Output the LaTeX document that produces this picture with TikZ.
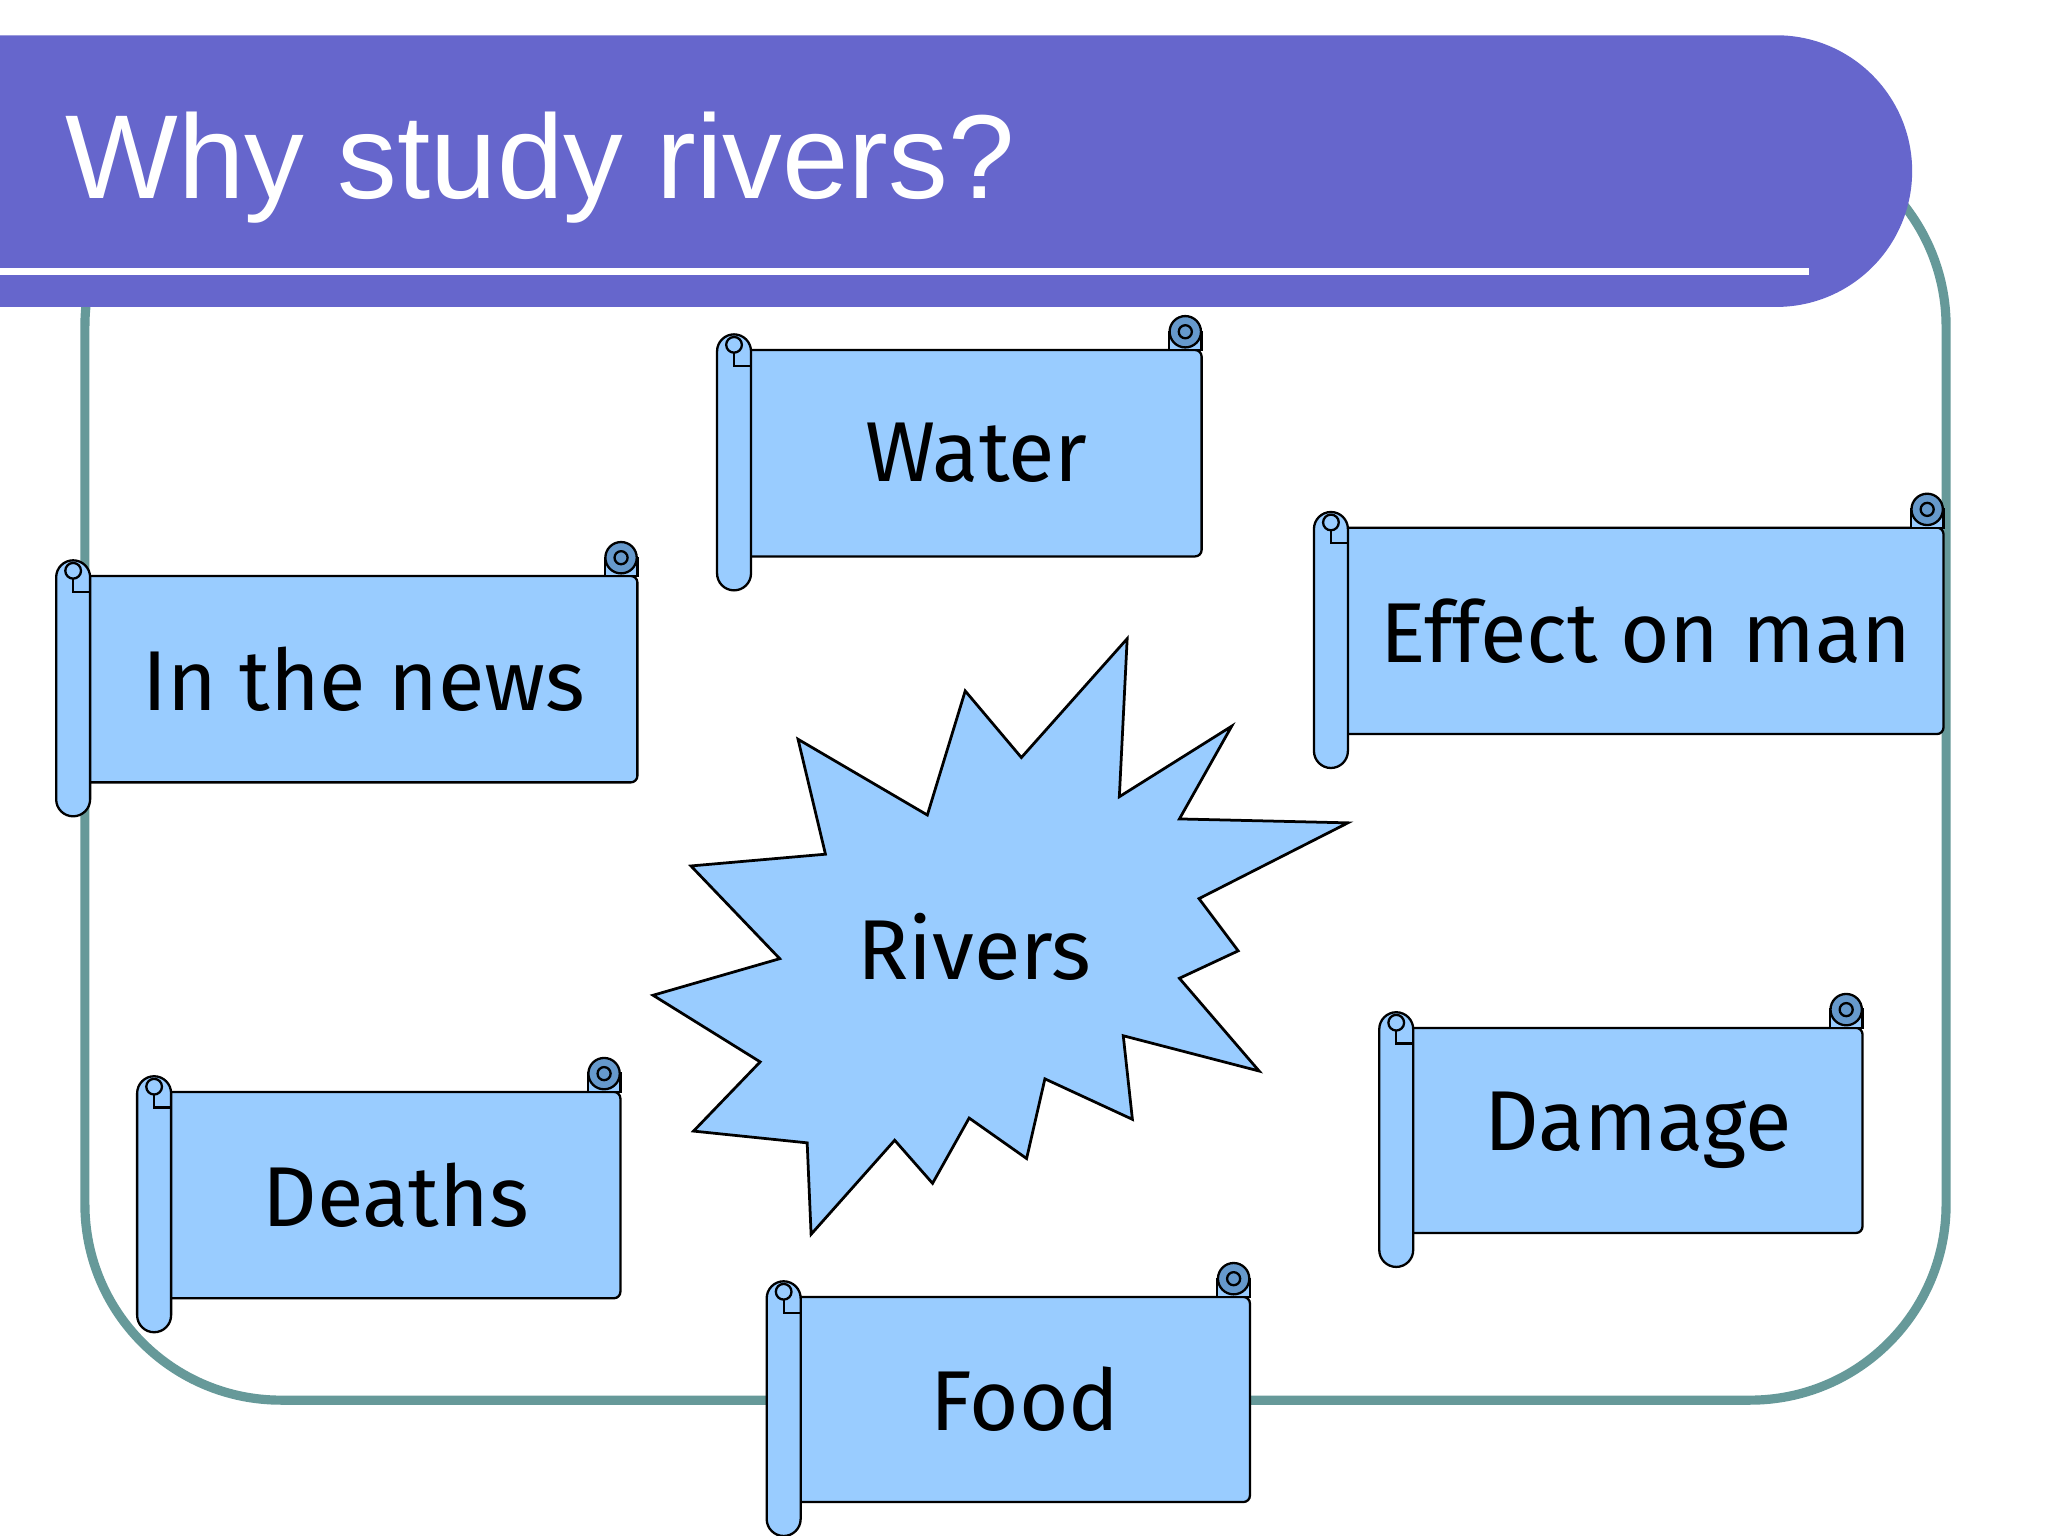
\documentclass[tikz,border=0pt]{standalone}
\usepackage{fontspec}
\setmainfont{Liberation Sans}
\newfontfamily\comic{Fira Sans}
\definecolor{titlebg}{HTML}{6666CC}
\definecolor{frame}{HTML}{669999}
\definecolor{scrollfill}{HTML}{99CCFF}
\definecolor{curl}{HTML}{6699CC}
\tikzset{
  sc/.style={fill=scrollfill,draw=black,line width=0.5pt},
  lbl/.style={font=\comic\fontsize{18.5}{22}\selectfont,text=black}
}
\newcommand\scrl[6]{%
 \path[sc,rounded corners=0.05cm] (#2+13,#3) -- (#4,#3) -- (#4,#5) -- (#2+13,#5) -- cycle;
 \path[sc] (#4-25,#3) rectangle (#4,#3-14);
 \path[fill=curl,draw=black,line width=0.5pt] (#4-12.5,#3-14) circle[radius=0.12cm];
 \path[draw=black,line width=0.5pt] (#4-12.5,#3-14) circle[radius=0.05cm];
 \path[sc,rounded corners=0.13cm] (#2,#3-12) rectangle (#2+26,#5+26);
 \path[draw=black,line width=0.5pt] (#2+13,#3-4) circle[radius=0.06cm];
 \path[draw=black,line width=0.5pt] (#2+13,#3+2) -- (#2+13,#3+12) -- (#2+26,#3+12);
 \node[lbl] (#1) at ({(#2+26+#4)/2},{(#3+#5)/2}) {#6};
}
\begin{document}
\begin{tikzpicture}[x=0.01cm,y=-0.01cm]
\useasboundingbox (0,0) rectangle (1568,1176);
\fill[white] (0,0) rectangle (1568,1176);
\draw[frame,line width=2pt,rounded corners=1.5cm] (65,100) rectangle (1490,1072);
\fill[titlebg] (0,27) [rounded corners=1.04cm] -- (1464,27) -- (1464,235) [sharp corners] -- (0,235) -- cycle;
\draw[white,line width=1.6pt] (0,208) -- (1385,208);
\node[anchor=west,text=white,font=\fontsize{26}{30}\selectfont] (title) at (38,128) {Why study rivers?};
\path[fill=scrollfill,draw=black,line width=0.6pt] (863,489)--(857,610)--(943,556)--(903,627)--(1032,630)--(918,688)--(948,728)--(903,749)--(964,820)--(860,793)--(867,857)--(800,826)--(786,887)--(742,856)--(714,906)--(685,873)--(621,945)--(618,875)--(531,866)--(582,813)--(500,762)--(597,734)--(529,663)--(632,654)--(611,566)--(710,624)--(739,529)--(782,580)--cycle;
\node[lbl] (rivers) at (746,725) {Rivers};
\scrl{news}{43}{441}{488}{599}{In the news}
\scrl{water}{549}{268}{920}{426}{Water}
\scrl{effect}{1006}{404}{1488}{562}{Effect on man}
\scrl{damage}{1056}{787}{1426}{944}{Damage}
\scrl{deaths}{105}{836}{475}{994}{Deaths}
\scrl{food}{587}{993}{957}{1150}{Food}
\end{tikzpicture}
\end{document}
